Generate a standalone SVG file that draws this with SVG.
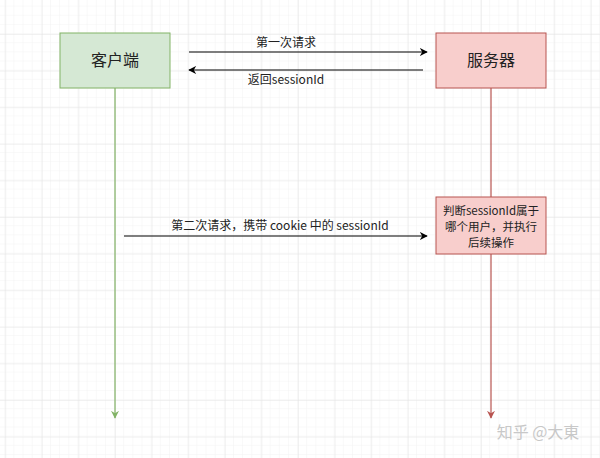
<svg xmlns="http://www.w3.org/2000/svg" width="600" height="458" viewBox="0 0 600 458">
<defs>
<pattern id="minor" x="5.2" y="-2.6" width="9.15" height="9.15" patternUnits="userSpaceOnUse"><path d="M9.15 0V9.15H0" fill="none" stroke="#f3f3f3" stroke-width="1"/></pattern>
<pattern id="major" x="5.2" y="-2.6" width="36.6" height="36.6" patternUnits="userSpaceOnUse"><path d="M0 0V36.6M0 0H36.6" fill="none" stroke="#e4e4e4" stroke-width="1"/></pattern>
<marker id="ab" viewBox="0 0 10 10" refX="9" refY="5" markerWidth="8" markerHeight="8" orient="auto" markerUnits="userSpaceOnUse"><path d="M0 0L10 5L0 10L3 5z" fill="#000"/></marker>
<marker id="ag" viewBox="0 0 10 10" refX="9" refY="5" markerWidth="8" markerHeight="8" orient="auto" markerUnits="userSpaceOnUse"><path d="M0 0L10 5L0 10L3 5z" fill="#82b366"/></marker>
<marker id="ar" viewBox="0 0 10 10" refX="9" refY="5" markerWidth="8" markerHeight="8" orient="auto" markerUnits="userSpaceOnUse"><path d="M0 0L10 5L0 10L3 5z" fill="#b85450"/></marker>
</defs>
<style>
text{font-family:"Noto Sans CJK SC","Liberation Sans",sans-serif;text-anchor:middle;fill:#222}
.lbl{font-size:12px}
.sm{font-size:11.5px}
.big{font-size:16px}
.g{fill:#d5e8d4;stroke:#82b366}
.r{fill:#f8cecc;stroke:#b85450}
</style>
<rect width="600" height="458" fill="#fff"/>
<rect width="600" height="458" fill="url(#minor)"/>
<rect width="600" height="458" fill="url(#major)"/>
<g id="connectors" fill="none" stroke-width="1.2">
<line x1="115" y1="88" x2="115" y2="418" stroke="#82b366" marker-end="url(#ag)"/>
<line x1="491" y1="88" x2="491" y2="197" stroke="#b85450"/>
<line x1="491" y1="254" x2="491" y2="418" stroke="#b85450" marker-end="url(#ar)"/>
<line x1="189" y1="52" x2="427" y2="52" stroke="#000" marker-end="url(#ab)"/>
<line x1="423" y1="70" x2="189" y2="70" stroke="#000" marker-end="url(#ab)"/>
<line x1="124" y1="236" x2="427" y2="236" stroke="#000" marker-end="url(#ab)"/>
<text class="lbl" x="286" y="47">第一次请求</text>
<text class="lbl" x="286" y="84">返回sessionId</text>
<text class="lbl" x="280" y="230">第二次请求，携带 cookie 中的 sessionId</text>
</g>
<g id="client"><rect class="g" x="60" y="33" width="110" height="55"/><text class="big" x="115" y="66">客户端</text></g>
<g id="server"><rect class="r" x="436" y="33" width="110" height="55"/><text class="big" x="491" y="66">服务器</text></g>
<g id="process"><rect class="r" x="436" y="197" width="110" height="57"/>
<text class="sm" x="491" y="215">判断sessionId属于</text>
<text class="sm" x="491" y="231">哪个用户，并执行</text>
<text class="sm" x="491" y="247">后续操作</text></g>
<text x="538" y="438" style="font-size:16px;fill:#c8c8c8">知乎 @大東</text>
</svg>
